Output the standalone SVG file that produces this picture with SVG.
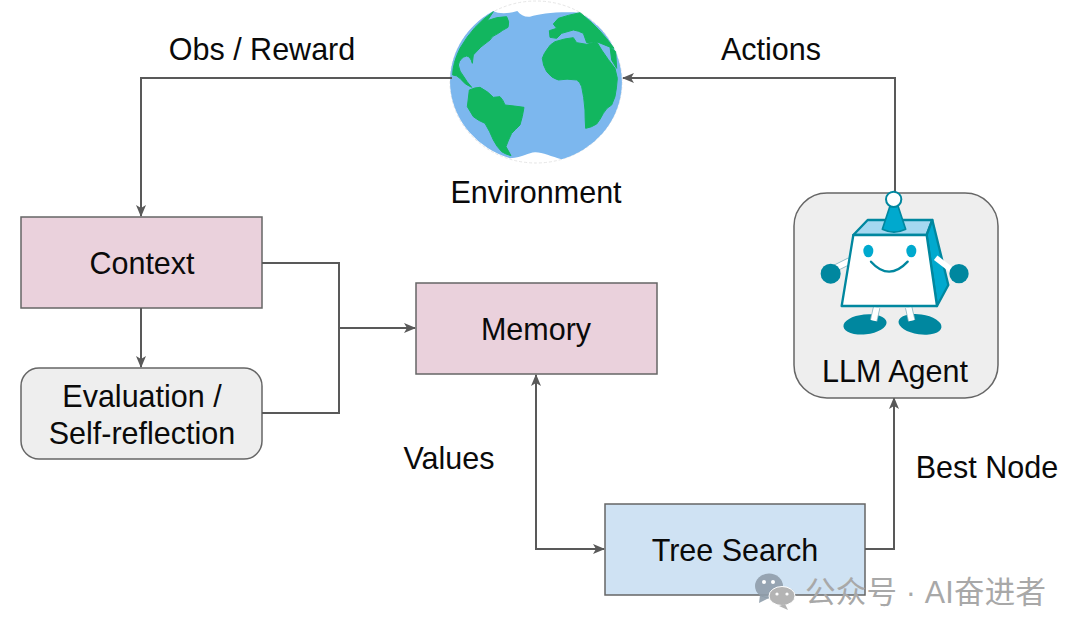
<svg xmlns="http://www.w3.org/2000/svg" width="1080" height="635" viewBox="0 0 1080 635">
<style>
.lbl{font-family:"Liberation Sans",Arial,sans-serif;font-size:30.5px;fill:#0a0a0a;text-anchor:middle}
.box{stroke:#666;stroke-width:1.5}
.pink{fill:#ead1dc}.grey{fill:#eeeeee}.blue{fill:#cfe2f3}
.conn{fill:none;stroke:#595959;stroke-width:2}
.land{fill:#12b65f;stroke:#12b65f;stroke-width:3;stroke-linejoin:round}
.teal{fill:#00879f}
.out{stroke:#00879f;stroke-width:7;stroke-linejoin:round}
.limb-edge{fill:none;stroke:#8fb9c4;stroke-width:22}
.limb{fill:none;stroke:#fff;stroke-width:17}
</style>
<defs>
<marker id="arrow" viewBox="0 0 12 10" refX="11" refY="5" markerWidth="12" markerHeight="10" markerUnits="userSpaceOnUse" orient="auto-start-reverse">
<path d="M0,0 L12,5 L0,10 L3,5 Z" fill="#595959"/>
</marker>
</defs>
<rect width="1080" height="635" fill="#fff"/>

<g id="environment">
<ellipse cx="536" cy="82" rx="86" ry="81" fill="none" stroke="#e6e6e6" stroke-width="1" stroke-dasharray="3 2"/>
<g transform="translate(430,0) scale(0.33333)">
<path fill="#7cb7ee" d="M190,33 C205,42 235,42 262,33 C272,45 285,52 300,50 C330,42 380,34 450,38 A259,243 0 0 1 395,478 C365,470 335,456 315,457 C295,458 280,472 240,475 A259,243 0 0 1 190,33 Z"/>
<path class="land" d="M190,35 L172,62 Q200,50 230,50 Q240,65 234,82 Q215,92 205,100 Q185,108 180,120 Q150,140 130,165 L127,190 Q122,170 110,168 Q90,172 85,195 Q88,215 100,228 Q110,245 125,262 Q105,255 90,235 Q80,225 68,225 Q68,190 90,145 Q130,75 190,35 Z"/>
<path class="land" d="M118,270 Q135,262 150,262 Q175,275 190,292 L210,290 Q220,300 225,315 Q255,318 282,322 Q278,350 270,375 Q255,390 245,400 Q235,420 228,440 L243,467 Q225,462 215,455 Q200,440 190,420 Q180,395 165,370 Q145,362 130,350 L112,320 Z"/>
<path class="land" d="M337,175 Q342,160 350,150 Q360,132 375,125 Q405,115 430,113 L440,128 L470,133 L500,125 L515,150 Q535,180 555,205 L562,235 Q560,265 555,290 L545,315 Q530,322 520,340 Q510,360 500,372 Q485,382 467,385 Q465,355 465,330 Q462,290 455,260 Q450,245 440,240 Q410,235 385,240 Q365,235 350,215 Q338,195 337,175 Z"/>
<path class="land" d="M385,55 Q415,45 450,38 Q510,85 552,145 L537,140 L500,125 L470,128 L460,100 Q445,92 430,90 L395,100 L380,115 L360,112 L358,92 L380,85 L370,72 Z"/>
<path class="land" d="M540,140 L557,155 L560,205 L545,180 Z"/>
</g>
<text class="lbl" x="536" y="203">Environment</text>
</g>

<g id="context"><rect class="box pink" x="21" y="217" width="241" height="91"/><text class="lbl" x="142" y="274">Context</text></g>
<g id="evaluation"><rect class="box grey" x="21" y="368" width="241" height="91" rx="18"/><text class="lbl" x="142" y="407">Evaluation /</text><text class="lbl" x="142" y="444">Self-reflection</text></g>
<g id="memory"><rect class="box pink" x="416" y="283" width="241" height="91"/><text class="lbl" x="536" y="340">Memory</text></g>
<g id="tree-search"><rect class="box blue" x="605" y="504" width="260" height="91"/><text class="lbl" x="735" y="561">Tree Search</text></g>

<g id="connectors">
<path class="conn" d="M452,78 H141 V216" marker-end="url(#arrow)"/>
<path class="conn" d="M895,193 V78 H623" marker-end="url(#arrow)"/>
<path class="conn" d="M262,263 H339 V413 H262"/>
<path class="conn" d="M339,328 H415" marker-end="url(#arrow)"/>
<path class="conn" d="M141,308 V367" marker-end="url(#arrow)"/>
<path class="conn" d="M536,375 V549 H604" marker-start="url(#arrow)" marker-end="url(#arrow)"/>
<path class="conn" d="M865,549 H894 V398" marker-end="url(#arrow)"/>
</g>

<g id="llm-agent">
<rect class="box grey" x="794" y="193" width="204" height="205" rx="33"/>
<g transform="translate(785,180) scale(0.33333)">
<path class="limb-edge" d="M150,265 L195,242"/>
<path class="limb" d="M150,265 L195,242"/>
<ellipse class="teal" cx="240" cy="433" rx="65" ry="30" transform="rotate(-6 240 433)"/>
<ellipse class="teal" cx="405" cy="433" rx="65" ry="30" transform="rotate(8 405 433)"/>
<path class="limb-edge" d="M275,382 L266,422"/>
<path class="limb" d="M275,382 L266,422"/>
<path class="limb-edge" d="M371,382 L380,422"/>
<path class="limb" d="M371,382 L380,422"/>
<path class="out" fill="#a5d8f0" d="M205,165 L248,120 L442,120 L425,165 Z"/>
<path class="out" fill="#00a9ce" d="M425,165 L442,120 L490,315 L456,378 Z"/>
<path class="out" fill="#fff" d="M205,165 L425,165 L456,378 L170,378 Z"/>
<path class="limb" d="M452,233 L500,270"/>
<circle class="teal" cx="137" cy="281" r="30"/>
<circle class="teal" cx="522" cy="281" r="29"/>
<ellipse fill="#00a9ce" cx="250" cy="213" rx="15" ry="19"/>
<ellipse fill="#00a9ce" cx="379" cy="213" rx="15" ry="19"/>
<path d="M258,245 Q312,305 368,245" fill="none" stroke="#00879f" stroke-width="7" stroke-linecap="round"/>
<path d="M292,148 L316,75 L338,75 L362,148 Q327,165 292,148 Z" fill="#00a9ce" stroke="#00879f" stroke-width="5" stroke-linejoin="round"/>
<circle cx="326" cy="58" r="23" fill="#fff" stroke="#00879f" stroke-width="6"/>
</g>
<text class="lbl" x="895" y="382">LLM Agent</text>
</g>

<g id="labels">
<text class="lbl" x="262" y="60">Obs / Reward</text>
<text class="lbl" x="771" y="60">Actions</text>
<text class="lbl" x="449" y="469">Values</text>
<text class="lbl" x="987" y="478">Best Node</text>
</g>

<g id="watermark">
<ellipse cx="769" cy="586" rx="14" ry="12.5" fill="#8f9dab" fill-opacity="0.9"/>
<path d="M760,595 L759,603 L769,598 Z" fill="#8f9dab" fill-opacity="0.9"/>
<ellipse cx="782" cy="596" rx="13" ry="9.5" fill="#b4b4b4" stroke="#fff" stroke-width="1"/>
<path d="M785,604 L788,610 L779,606 Z" fill="#b4b4b4"/>
<circle cx="764" cy="582" r="2" fill="#fff"/><circle cx="773" cy="582" r="2" fill="#fff"/>
<circle cx="777" cy="594" r="1.6" fill="#fff"/><circle cx="787" cy="594" r="1.6" fill="#fff"/>
<text x="805" y="603" font-family="'Liberation Sans','Noto Sans CJK SC',sans-serif" font-size="30.5" letter-spacing="0.2" fill="#a8a8a8">公众号 · AI奋进者</text>
</g>
</svg>
